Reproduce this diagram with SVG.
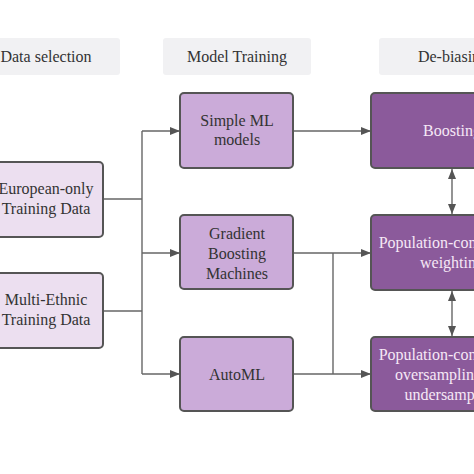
<svg xmlns="http://www.w3.org/2000/svg" width="474" height="474" viewBox="0 0 474 474">
<defs>
<style>
text{font-family:"Liberation Serif","Times New Roman",serif;font-size:16px;text-anchor:middle;fill:#333}
.hdr{fill:#f1f1f3;stroke:none}
.n1{fill:#ecdff0;stroke:#555;stroke-width:2}
.n2{fill:#cbabd9;stroke:#555;stroke-width:2}
.n3{fill:#8b5a9b;stroke:#555;stroke-width:2}
.lt{fill:#f6e8f6}
.c{fill:none;stroke:#666;stroke-width:1.4}
</style>
<marker id="ah" viewBox="0 0 10 8" refX="10" refY="4" markerWidth="10" markerHeight="8" markerUnits="userSpaceOnUse" orient="auto-start-reverse">
<path d="M0,0 L10,4 L0,8 Z" fill="#555"/>
</marker>
</defs>
<rect width="474" height="474" fill="#fff"/>
<g id="headers">
<g id="h-data"><rect class="hdr" x="-28" y="38" width="148" height="37" rx="3"/><text x="46" y="62">Data selection</text></g>
<g id="h-model"><rect class="hdr" x="163" y="38" width="148" height="37" rx="3"/><text x="237" y="62">Model Training</text></g>
<g id="h-debias"><rect class="hdr" x="379" y="38" width="148" height="37" rx="3"/><text x="453" y="62">De-biasing</text></g>
</g>
<g id="connectors">
<path class="c" d="M103,199 H142"/>
<path class="c" d="M103,311 H142"/>
<path class="c" d="M142,131 V374"/>
<path class="c" d="M142,131 H180" marker-end="url(#ah)"/>
<path class="c" d="M142,253 H180" marker-end="url(#ah)"/>
<path class="c" d="M142,374 H180" marker-end="url(#ah)"/>
<path class="c" d="M293,131 H371" marker-end="url(#ah)"/>
<path class="c" d="M293,253 H371" marker-end="url(#ah)"/>
<path class="c" d="M293,374 H371" marker-end="url(#ah)"/>
<path class="c" d="M333,253 V374"/>
<path class="c" d="M452,169 V214" marker-start="url(#ah)" marker-end="url(#ah)"/>
<path class="c" d="M452,291 V336" marker-start="url(#ah)" marker-end="url(#ah)"/>
</g>
<g id="european"><rect class="n1" x="-11" y="162" width="114" height="75" rx="4"/><text x="46" y="194">European-only</text><text x="46" y="214">Training Data</text></g>
<g id="multiethnic"><rect class="n1" x="-11" y="273" width="114" height="75" rx="4"/><text x="46" y="305">Multi-Ethnic</text><text x="46" y="325">Training Data</text></g>
<g id="simpleml"><rect class="n2" x="180" y="93" width="113" height="75" rx="4"/><text x="237" y="126">Simple ML</text><text x="237" y="145">models</text></g>
<g id="gbm"><rect class="n2" x="180" y="215" width="113" height="74" rx="4"/><text x="237" y="239">Gradient</text><text x="237" y="259">Boosting</text><text x="237" y="279">Machines</text></g>
<g id="automl"><rect class="n2" x="180" y="337" width="113" height="74" rx="4"/><text x="237" y="380">AutoML</text></g>
<g id="boosting"><rect class="n3" x="371" y="93" width="163" height="75" rx="4"/><text class="lt" x="452" y="136">Boosting</text></g>
<g id="weighting"><rect class="n3" x="371" y="215" width="163" height="75" rx="4"/><text class="lt" x="452" y="248">Population-conditional</text><text class="lt" x="452" y="268">weighting</text></g>
<g id="sampling"><rect class="n3" x="371" y="337" width="163" height="74" rx="4"/><text class="lt" x="452" y="360">Population-conditional</text><text class="lt" x="452" y="380">oversampling and</text><text class="lt" x="452" y="400">undersampling</text></g>
</svg>
